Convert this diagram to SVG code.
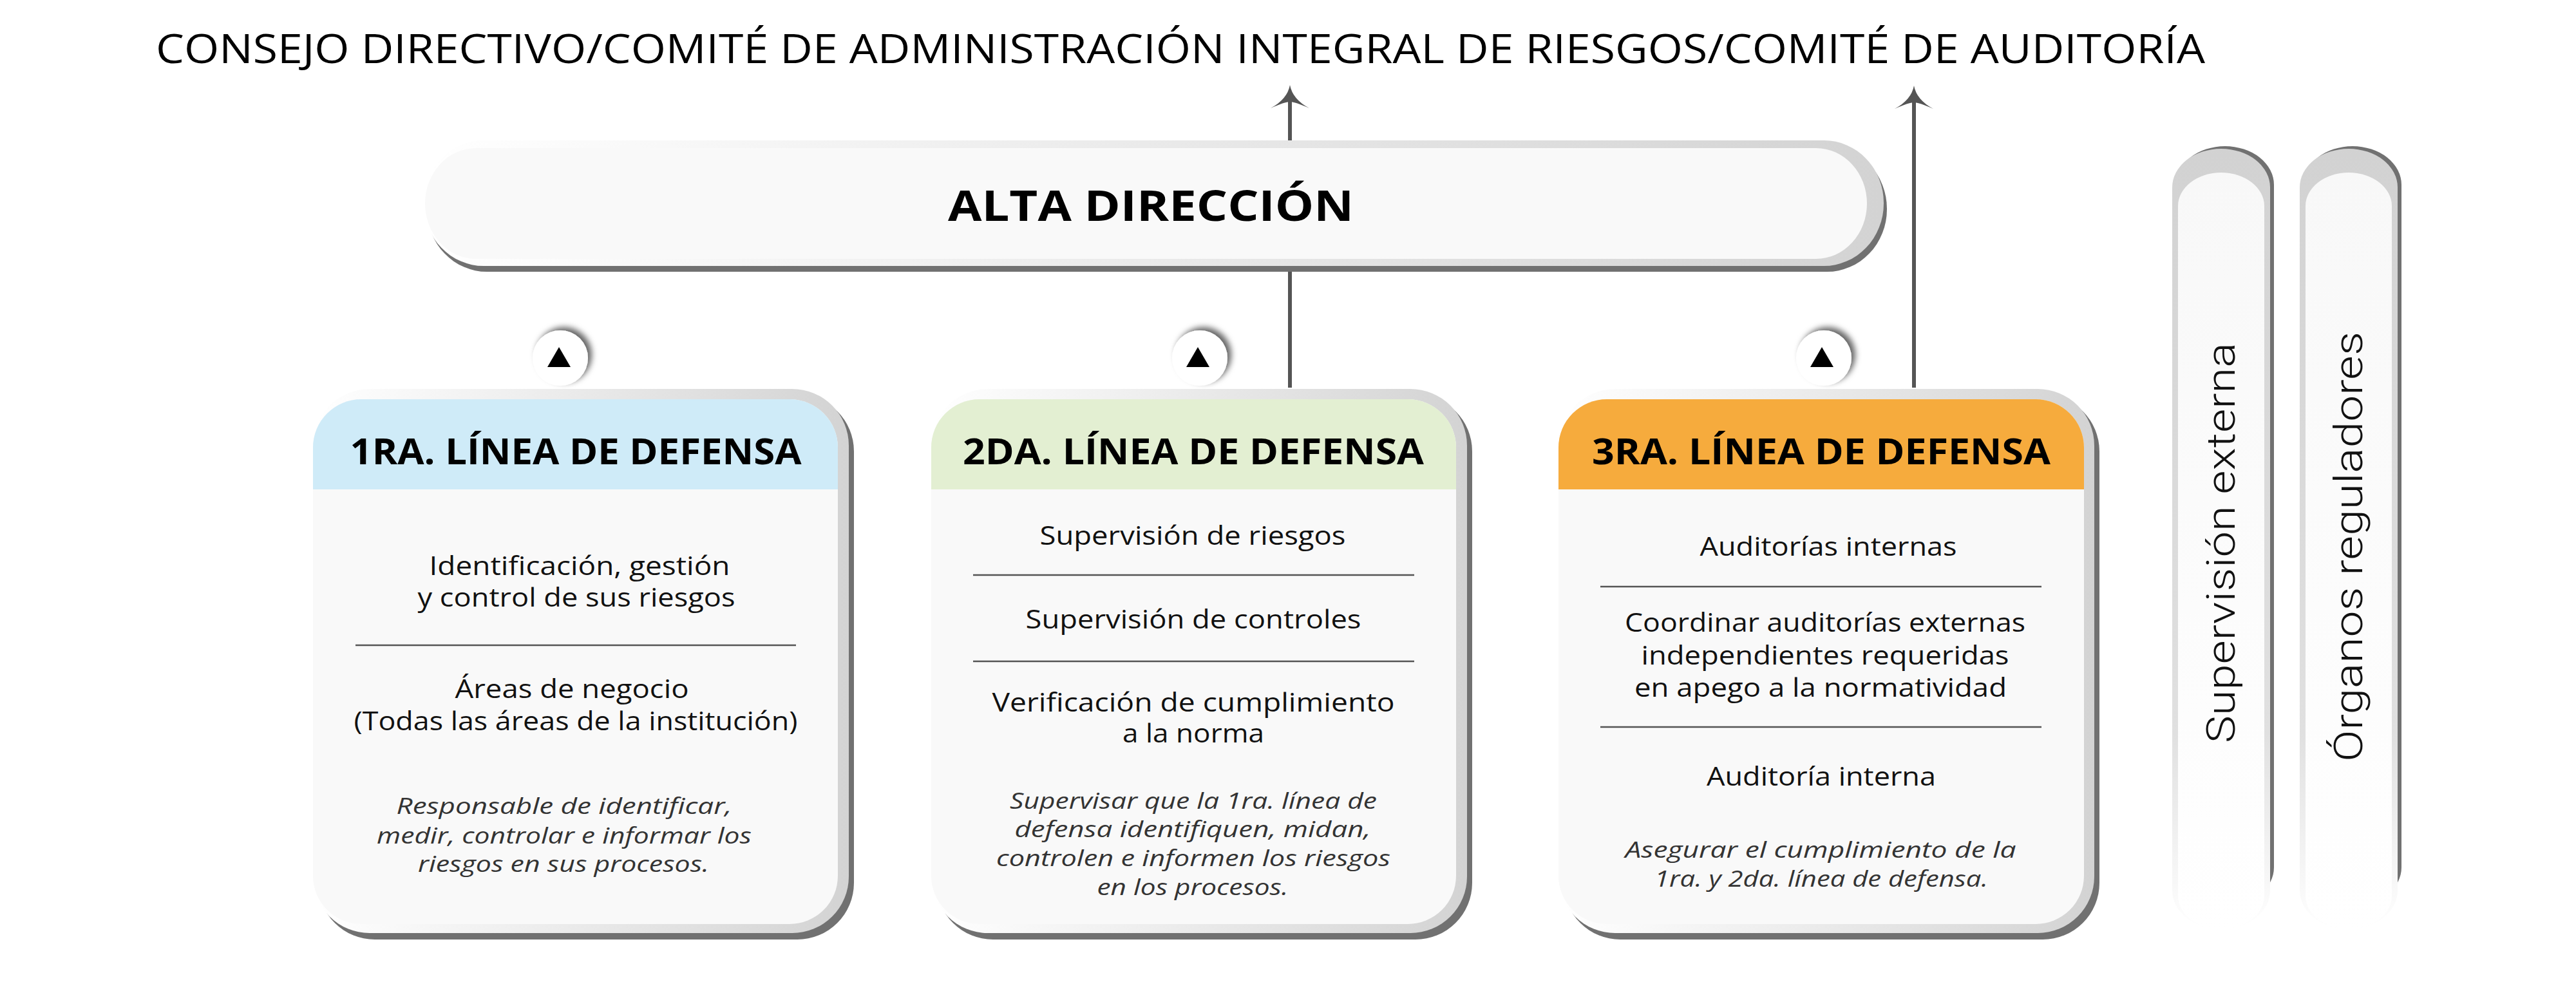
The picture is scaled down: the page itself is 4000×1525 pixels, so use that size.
<svg xmlns="http://www.w3.org/2000/svg" width="4000" height="1525" viewBox="0 0 4000 1525">
<style>
.t{font-family:"Open Sans","Noto Sans",sans-serif;fill:#000}
.title{font-size:63px}
.alta{font-size:67px;font-weight:700;text-anchor:middle}
.hdr{font-size:55px;font-weight:700;text-anchor:middle}
.body{font-size:41px;text-anchor:middle;fill:#111}
.it{font-size:35px;font-style:italic;text-anchor:middle;fill:#333}
.side{font-family:Roboto,"Open Sans",sans-serif;font-weight:300;font-size:62px;text-anchor:middle;fill:#111}
.sep{stroke:#555;stroke-width:2.5}
.conn{stroke:#555;stroke-width:6;fill:none}
.shadow{fill:#717171}
.frame{fill:url(#gFrame)}
.inner{fill:#f9f9f9}
.knob{fill:#fff;filter:url(#ds)}
.tri{fill:#000}
</style>
<defs>
<linearGradient id="gFrame" x1="0" y1="0" x2="1" y2="0">
<stop offset="0" stop-color="#ffffff"/>
<stop offset="0.45" stop-color="#ececec"/>
<stop offset="1" stop-color="#d3d3d3"/>
</linearGradient>
<linearGradient id="gPillOuter" x1="0" y1="0" x2="0" y2="1">
<stop offset="0" stop-color="#d2d2d2"/>
<stop offset="0.75" stop-color="#e0e0e0"/>
<stop offset="1" stop-color="#ffffff"/>
</linearGradient>
<linearGradient id="gPillInner" x1="0" y1="0" x2="0" y2="1">
<stop offset="0" stop-color="#f8f8f8"/>
<stop offset="1" stop-color="#ffffff"/>
</linearGradient>
<filter id="ds" x="-40%" y="-40%" width="180%" height="180%">
<feDropShadow dx="6" dy="-5" stdDeviation="5" flood-color="#000" flood-opacity="0.6"/>
</filter>
<marker id="arr" markerUnits="userSpaceOnUse" viewBox="0 0 40 60" markerWidth="40" markerHeight="60" refX="23" refY="30" orient="auto">
<path d="M36,30 Q14,26 0,0 Q10,22 10,30 Q10,38 0,60 Q14,34 36,30 Z" fill="#555"/>
</marker>
</defs>
<rect width="4000" height="1525" fill="#fff"/>

<g id="connectors">
<path class="conn" d="M2003,602 L2003,145" marker-end="url(#arr)"/>
<path class="conn" d="M2972,602 L2972,146" marker-end="url(#arr)"/>
</g>

<g id="title">
<text class="t title" x="242" y="98" textLength="3182" lengthAdjust="spacingAndGlyphs">CONSEJO DIRECTIVO/COMITÉ DE ADMINISTRACIÓN INTEGRAL DE RIESGOS/COMITÉ DE AUDITORÍA</text>
</g>

<g id="alta-direccion">
<rect class="shadow" x="663" y="227" width="2267" height="195" rx="93" ry="97"/>
<rect class="frame" x="658" y="218" width="2267" height="195" rx="93" ry="97"/>
<rect class="inner" x="660" y="230" width="2239" height="172" rx="79" ry="86"/>
<text class="t alta" x="1787" y="343" textLength="630" lengthAdjust="spacingAndGlyphs">ALTA DIRECCIÓN</text>
</g>

<g id="knob1">
<circle class="knob" cx="870" cy="556" r="43"/>
<path class="tri" d="M868,539 L886,570 L850,570 Z"/>
</g>
<g id="knob2">
<circle class="knob" cx="1863" cy="556" r="43"/>
<path class="tri" d="M1860,539 L1878,570 L1842,570 Z"/>
</g>
<g id="knob3">
<circle class="knob" cx="2832" cy="556" r="43"/>
<path class="tri" d="M2829,539 L2847,570 L2811,570 Z"/>
</g>

<g id="linea1">
<rect class="shadow" x="494" y="613" width="832" height="846" rx="88"/>
<rect class="frame" x="486" y="604" width="832" height="845" rx="88"/>
<rect class="inner" x="486" y="620" width="815" height="815" rx="75"/>
<path d="M486,760 V695 A75,75 0 0 1 561,620 H1226 A75,75 0 0 1 1301,695 V760 Z" fill="#cfebf8"/>
<text class="t hdr" x="894" y="721" textLength="701" lengthAdjust="spacingAndGlyphs">1RA. LÍNEA DE DEFENSA</text>
<text class="t body" x="900" y="893" textLength="467" lengthAdjust="spacingAndGlyphs">Identificación, gestión</text>
<text class="t body" x="895" y="942" textLength="493" lengthAdjust="spacingAndGlyphs">y control de sus riesgos</text>
<line class="sep" x1="552" y1="1002" x2="1236" y2="1002"/>
<text class="t body" x="888" y="1084" textLength="363" lengthAdjust="spacingAndGlyphs">Áreas de negocio</text>
<text class="t body" x="894" y="1134" textLength="689" lengthAdjust="spacingAndGlyphs">(Todas las áreas de la institución)</text>
<text class="t it" x="876" y="1264" textLength="521" lengthAdjust="spacingAndGlyphs">Responsable de identificar,</text>
<text class="t it" x="876" y="1310" textLength="582" lengthAdjust="spacingAndGlyphs">medir, controlar e informar los</text>
<text class="t it" x="875" y="1354" textLength="452" lengthAdjust="spacingAndGlyphs">riesgos en sus procesos.</text>
</g>

<g id="linea2">
<rect class="shadow" x="1454" y="613" width="832" height="846" rx="88"/>
<rect class="frame" x="1446" y="604" width="832" height="845" rx="88"/>
<rect class="inner" x="1446" y="620" width="815" height="815" rx="75"/>
<path d="M1446,760 V695 A75,75 0 0 1 1521,620 H2186 A75,75 0 0 1 2261,695 V760 Z" fill="#e3efd2"/>
<text class="t hdr" x="1853" y="721" textLength="716" lengthAdjust="spacingAndGlyphs">2DA. LÍNEA DE DEFENSA</text>
<text class="t body" x="1852" y="846" textLength="475" lengthAdjust="spacingAndGlyphs">Supervisión de riesgos</text>
<line class="sep" x1="1511" y1="893" x2="2196" y2="893"/>
<text class="t body" x="1853" y="976" textLength="521" lengthAdjust="spacingAndGlyphs">Supervisión de controles</text>
<line class="sep" x1="1511" y1="1027" x2="2196" y2="1027"/>
<text class="t body" x="1853" y="1105" textLength="625" lengthAdjust="spacingAndGlyphs">Verificación de cumplimiento</text>
<text class="t body" x="1853" y="1153" textLength="220" lengthAdjust="spacingAndGlyphs">a la norma</text>
<text class="t it" x="1853" y="1256" textLength="570" lengthAdjust="spacingAndGlyphs">Supervisar que la 1ra. línea de</text>
<text class="t it" x="1852" y="1300" textLength="553" lengthAdjust="spacingAndGlyphs">defensa identifiquen, midan,</text>
<text class="t it" x="1853" y="1345" textLength="612" lengthAdjust="spacingAndGlyphs">controlen e informen los riesgos</text>
<text class="t it" x="1852" y="1390" textLength="297" lengthAdjust="spacingAndGlyphs">en los procesos.</text>
</g>

<g id="linea3">
<rect class="shadow" x="2428" y="613" width="832" height="846" rx="88"/>
<rect class="frame" x="2420" y="604" width="832" height="845" rx="88"/>
<rect class="inner" x="2420" y="620" width="816" height="815" rx="75"/>
<path d="M2420,760 V695 A75,75 0 0 1 2495,620 H3161 A75,75 0 0 1 3236,695 V760 Z" fill="#f6ab3d"/>
<text class="t hdr" x="2828" y="721" textLength="712" lengthAdjust="spacingAndGlyphs">3RA. LÍNEA DE DEFENSA</text>
<text class="t body" x="2839" y="863" textLength="399" lengthAdjust="spacingAndGlyphs">Auditorías internas</text>
<line class="sep" x1="2485" y1="911" x2="3170" y2="911"/>
<text class="t body" x="2834" y="981" textLength="622" lengthAdjust="spacingAndGlyphs">Coordinar auditorías externas</text>
<text class="t body" x="2834" y="1032" textLength="571" lengthAdjust="spacingAndGlyphs">independientes requeridas</text>
<text class="t body" x="2827" y="1082" textLength="578" lengthAdjust="spacingAndGlyphs">en apego a la normatividad</text>
<line class="sep" x1="2485" y1="1129" x2="3170" y2="1129"/>
<text class="t body" x="2828" y="1220" textLength="356" lengthAdjust="spacingAndGlyphs">Auditoría interna</text>
<text class="t it" x="2827" y="1332" textLength="607" lengthAdjust="spacingAndGlyphs">Asegurar el cumplimiento de la</text>
<text class="t it" x="2828" y="1377" textLength="518" lengthAdjust="spacingAndGlyphs">1ra. y 2da. línea de defensa.</text>
</g>

<g id="supervision-externa">
<rect class="shadow" x="3379" y="227" width="152" height="1180" rx="76" ry="60"/>
<rect x="3373" y="231" width="152" height="1212" rx="76" ry="60" fill="url(#gPillOuter)"/>
<rect x="3382" y="268" width="134" height="1175" rx="67" ry="52" fill="url(#gPillInner)"/>
<text class="side" transform="translate(3470,843) rotate(-90)" textLength="622" lengthAdjust="spacingAndGlyphs">Supervisión externa</text>
</g>

<g id="organos-reguladores">
<rect class="shadow" x="3577" y="227" width="152" height="1180" rx="76" ry="60"/>
<rect x="3571" y="231" width="152" height="1212" rx="76" ry="60" fill="url(#gPillOuter)"/>
<rect x="3580" y="268" width="134" height="1175" rx="67" ry="52" fill="url(#gPillInner)"/>
<text class="side" transform="translate(3668,849) rotate(-90)" textLength="668" lengthAdjust="spacingAndGlyphs">Órganos reguladores</text>
</g>
</svg>
